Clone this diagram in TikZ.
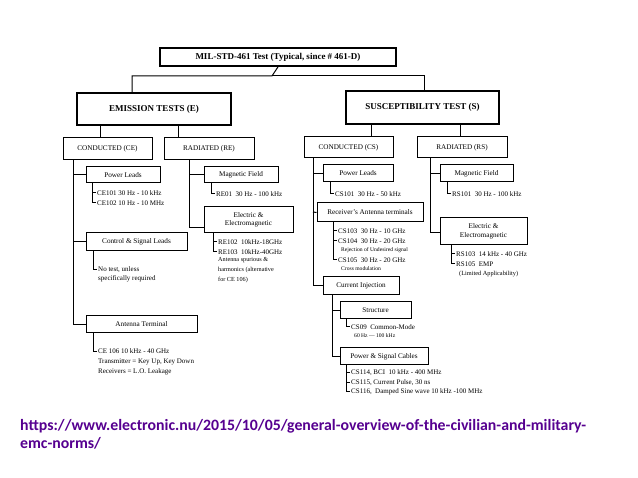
\documentclass[tikz,border=0pt]{standalone}
\usepackage{fontspec}
\setmainfont{Liberation Serif}
\newfontfamily\urlfont{Carlito}
\begin{document}
\begin{tikzpicture}[x=1pt,y=-1pt,
  bx/.style={draw,line width=1pt,inner sep=0pt,font=\fontsize{7.2}{8.5}\selectfont,align=center},
  big/.style={draw,line width=1.7pt,inner sep=0pt,font=\bfseries\fontsize{9}{10}\selectfont},
  tx/.style={anchor=west,inner sep=0pt,font=\fontsize{7}{8}\selectfont},
  sm/.style={anchor=west,inner sep=0pt,font=\fontsize{5.6}{6.5}\selectfont,align=left},
  ln/.style={line width=1pt},
  url/.style={anchor=base west,inner sep=0pt,font=\urlfont\bfseries\fontsize{15.8}{18}\selectfont,text=violet!75!blue!90!black}]
\useasboundingbox (0,0) rectangle (638,478);
% boxes
\node[big,minimum width=236,minimum height=18] (T) at (278,57) {MIL-STD-461 Test (Typical, since \# 461-D)};
\node[big,minimum width=154,minimum height=32] (E) at (154,109) {EMISSION TESTS (E)};
\node[big,minimum width=153,minimum height=33] (S) at (422.5,107.5) {SUSCEPTIBILITY TEST (S)};
\node[bx,minimum width=89,minimum height=22] (CE) at (107.5,149) {CONDUCTED (CE)};
\node[bx,minimum width=90,minimum height=22] (RE) at (209,149) {RADIATED (RE)};
\node[bx,minimum width=89,minimum height=21] (CS) at (348.5,147.5) {CONDUCTED (CS)};
\node[bx,minimum width=90,minimum height=21] (RS) at (462,147.5) {RADIATED (RS)};
% E side
\node[bx,minimum width=74,minimum height=16] (PL) at (123,175) {Power Leads};
\node[bx,minimum width=101,minimum height=18] (CSL) at (136.5,242) {Control \& Signal Leads};
\node[bx,minimum width=111,minimum height=17] (AT) at (141.5,324.5) {Antenna Terminal};
\node[bx,minimum width=74,minimum height=16] (MF) at (241,175) {Magnetic Field};
\node[bx,minimum width=89,minimum height=26] (EE) at (248.5,220) {Electric \&\\Electromagnetic};
% S side
\node[bx,minimum width=70,minimum height=17] (PL2) at (358,173.5) {Power Leads};
\node[bx,minimum width=106,minimum height=19] (RA) at (370,212.5) {Receiver's Antenna terminals};
\node[bx,minimum width=76,minimum height=18] (CI) at (361,286) {Current Injection};
\node[bx,minimum width=71,minimum height=17] (ST) at (375.5,310.5) {Structure};
\node[bx,minimum width=88,minimum height=17] (PSC) at (384,356.5) {Power \& Signal Cables};
\node[bx,minimum width=73,minimum height=17] (MF2) at (476.5,173.5) {Magnetic Field};
\node[bx,minimum width=87,minimum height=27] (EE2) at (483.5,231.5) {Electric \&\\Electromagnetic};
% tree lines top
\draw[ln] (T.south) -- (272,76) -- (132,76) -- (132,93);
\draw[ln] (272,76) -- (424,76) -- (424,91);
\draw[ln] (100,125) -- (100,138);
\draw[ln] (178,125) -- (178,138);
\draw[ln] (371,124) -- (371,137);
\draw[ln] (460,124) -- (460,137);
% CE
\draw[ln] (73,160) -- (73,324.5) -- (AT.west);
\draw[ln] (73,175) -- (PL.west);
\draw[ln] (73,242) -- (CSL.west);
\draw[ln] (92,183) -- (92,203);
\draw[ln] (92,193) -- (96,193); \draw[ln] (92,203) -- (96,203);
\node[tx] (t1) at (97,193) {CE101 30 Hz - 10 kHz};
\node[tx] (t2) at (97,203) {CE102 10 Hz - 10 MHz};
\draw[ln] (93,251) -- (93,270) -- (97,270);
\node[sm,anchor=north west,font=\fontsize{7}{9.8}\selectfont] (t3) at (98,266) {No test, unless\\specifically required};
\draw[ln] (93,333) -- (93,352) -- (97,352);
\node[sm,anchor=north west,font=\fontsize{7}{10}\selectfont] (t4) at (98,348) {CE 106 10 kHz - 40 GHz\\Transmitter = Key Up, Key Down\\Receivers = L.O. Leakage};
% RE
\draw[ln] (189,160) -- (189,228) -- (EE.west|-0,228);
\draw[ln] (189,175) -- (MF.west);
\draw[ln] (211,183) -- (211,194) -- (215,194);
\node[tx] (t5) at (216,194) {RE01\ \ 30 Hz - 100 kHz};
\draw[ln] (213,233) -- (213,252) -- (217,252); \draw[ln] (213,242) -- (217,242);
\node[tx] (t6) at (218,242) {RE102\ \ 10kHz-18GHz};
\node[tx] (t7) at (218,252) {RE103\ \ 10kHz-40GHz};
\node[sm,anchor=north west,font=\fontsize{6.2}{10}\selectfont] (t8) at (218,257) {Antenna spurious \&\\harmonics (alternative\\for CE 106)};
% CS
\draw[ln] (313,158) -- (313,286) -- (CI.west);
\draw[ln] (313,173.5) -- (PL2.west);
\draw[ln] (313,212) -- (RA.west);
\draw[ln] (330,182) -- (330,194) -- (334,194);
\node[tx] (t9) at (335,194) {CS101\ \ 30 Hz - 50 kHz};
\draw[ln] (333,222) -- (333,260) -- (337,260); \draw[ln] (333,231) -- (337,231); \draw[ln] (333,241) -- (337,241);
\node[tx] (t10) at (338,231) {CS103\ \ 30 Hz - 10 GHz};
\node[tx] (t11) at (338,241) {CS104\ \ 30 Hz - 20 GHz};
\node[sm] (t12) at (341,250) {Rejection of Undesired signal};
\node[tx] (t13) at (338,260) {CS105\ \ 30 Hz - 20 GHz};
\node[sm] (t14) at (341,269) {Cross modulation};
\draw[ln] (332,295) -- (332,356.5) -- (PSC.west);
\draw[ln] (332,310.5) -- (ST.west);
\draw[ln] (346,319) -- (346,327) -- (350,327);
\node[tx] (t15) at (351,327) {CS09\ \ Common-Mode};
\node[sm] (t16) at (354,336) {60 Hz --- 100 kHz};
\draw[ln] (346,365) -- (346,392) -- (350,392); \draw[ln] (346,373) -- (350,373); \draw[ln] (346,383) -- (350,383);
\node[tx] (t17) at (351,373) {CS114, BCI\ \ 10 kHz - 400 MHz};
\node[tx] (t18) at (351,383) {CS115, Current Pulse, 30 ns};
\node[tx] (t19) at (351,392) {CS116,\ \ Damped Sine wave 10 kHz -100 MHz};
% RS
\draw[ln] (430,158) -- (430,233) -- (EE2.west|-0,233);
\draw[ln] (430,173.5) -- (MF2.west);
\draw[ln] (447,182) -- (447,194) -- (451,194);
\node[tx] (t20) at (452,194) {RS101\ \ 30 Hz - 100 kHz};
\draw[ln] (451,245) -- (451,264) -- (455,264); \draw[ln] (451,254) -- (455,254);
\node[tx] (t21) at (456,254) {RS103\ \ 14 kHz - 40 GHz};
\node[tx] (t22) at (456,264) {RS105\ \ EMP};
\node[sm,font=\fontsize{6.3}{7}\selectfont] (t23) at (459,274) {(Limited Applicability)};
% URL
\node[url] (url1) at (20,431) {https://www.electronic.nu/2015/10/05/general-overview-of-the-civilian-and-military-};
\node[url] (url2) at (20,449) {emc-norms/};
\end{tikzpicture}
\end{document}
